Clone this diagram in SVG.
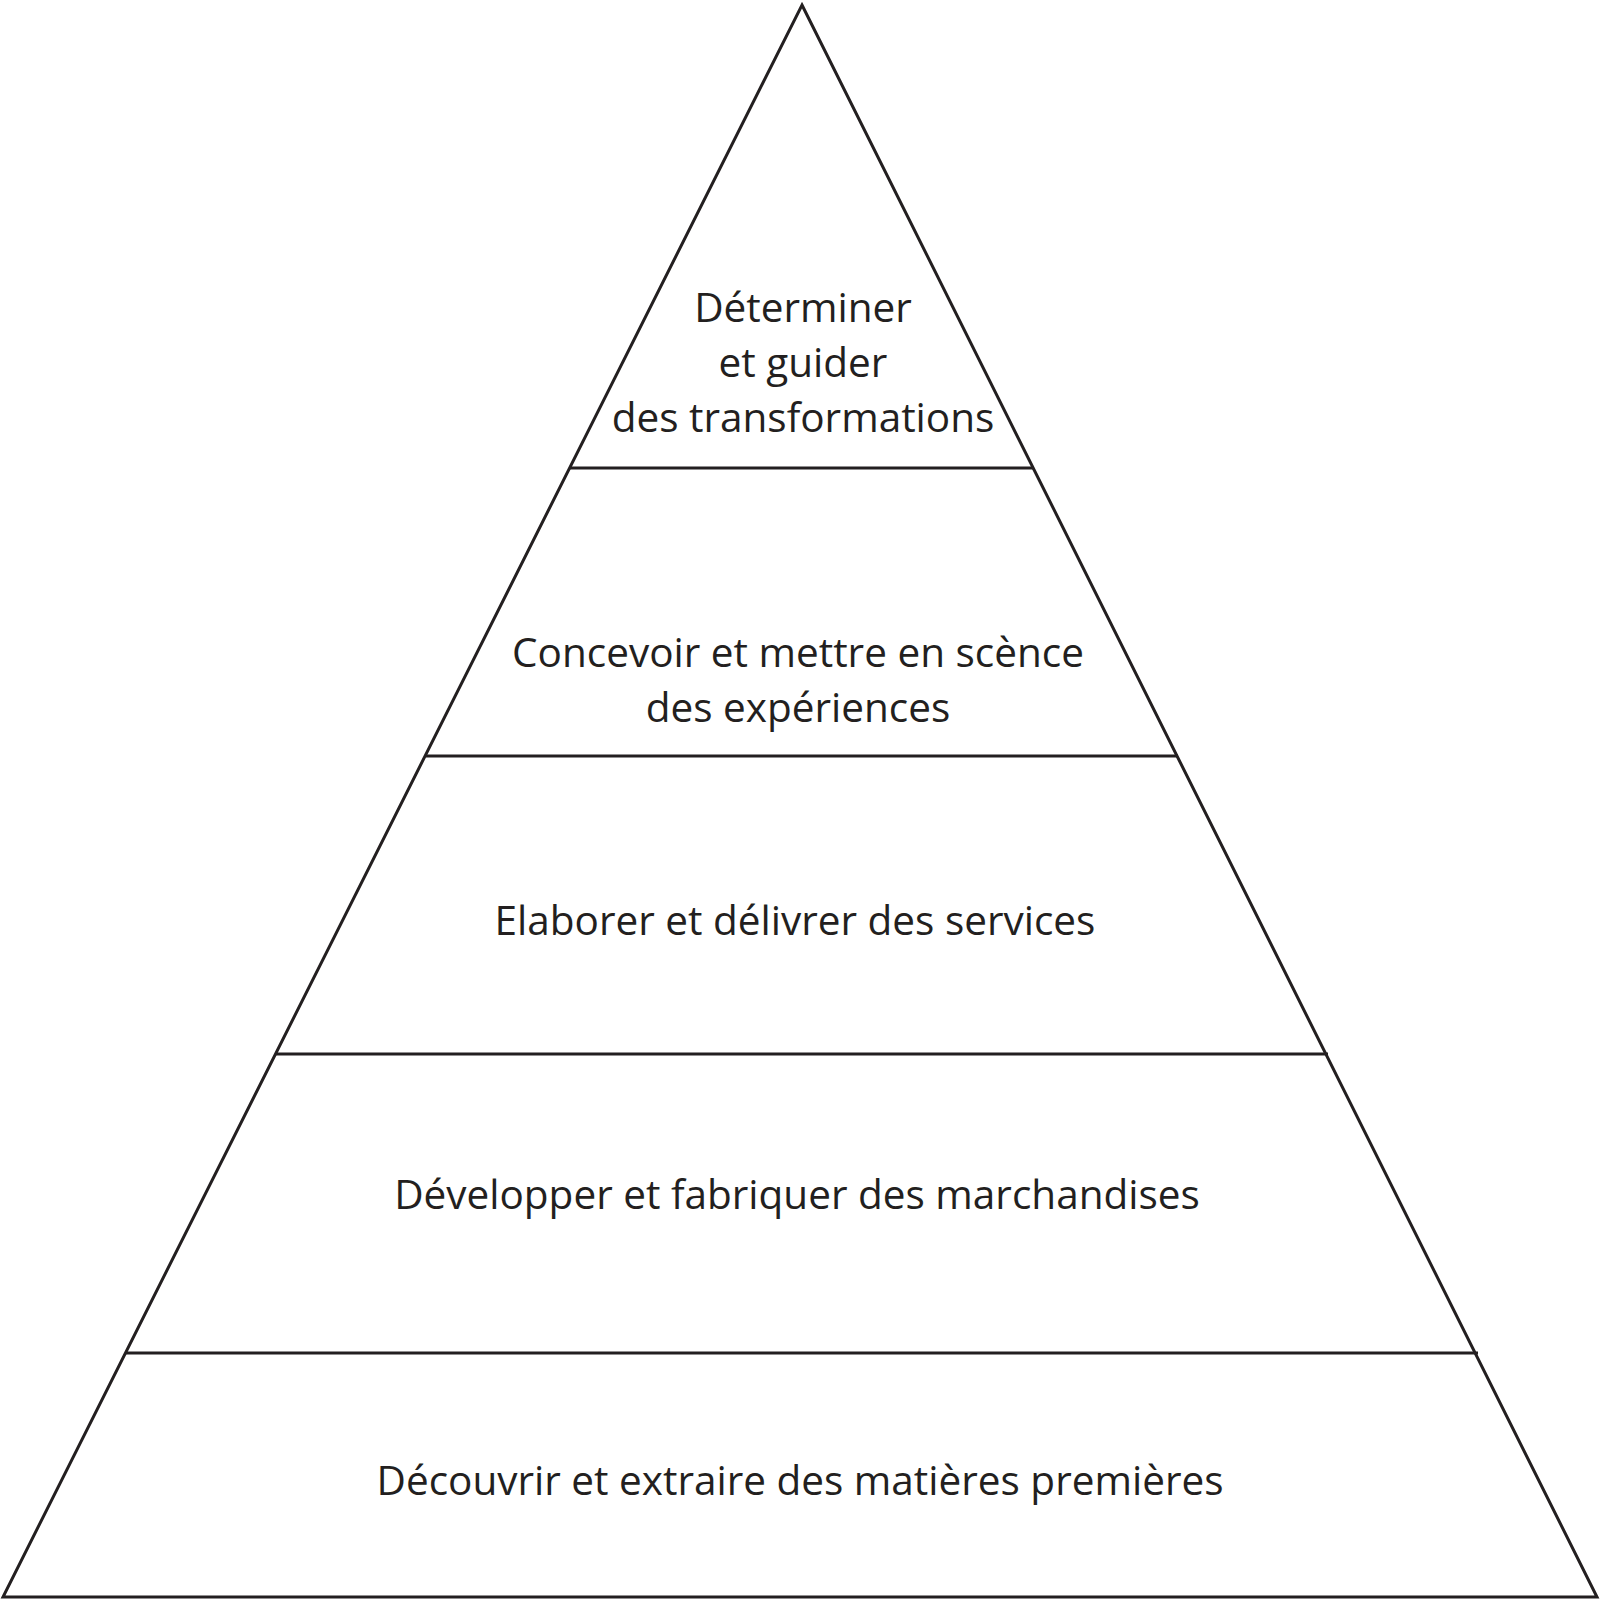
<svg xmlns="http://www.w3.org/2000/svg" width="1600" height="1600" viewBox="0 0 1600 1600">
<style>
.l{stroke:#231f20;stroke-width:3;fill:none}
text{font-family:"Open Sans","Liberation Sans",sans-serif;font-size:40.5px;fill:#231f20;text-anchor:middle}
</style>
<rect width="1600" height="1600" fill="#fff"/>
<g id="pyramid">
<polygon class="l" points="802,5 1597,1597 3,1597"/>
</g>
<g id="connectors">
<line class="l" x1="570" y1="468" x2="1034" y2="468"/>
<line class="l" x1="426" y1="756" x2="1178" y2="756"/>
<line class="l" x1="276" y1="1054" x2="1328" y2="1054"/>
<line class="l" x1="126" y1="1353" x2="1478" y2="1353"/>
</g>
<g id="level1"><text x="803" y="322">Déterminer</text><text x="803" y="377">et guider</text><text x="803" y="432">des transformations</text></g>
<g id="level2"><text x="798" y="667">Concevoir et mettre en scènce</text><text x="798" y="722">des expériences</text></g>
<g id="level3"><text x="795" y="935">Elaborer et délivrer des services</text></g>
<g id="level4"><text x="797" y="1209">Développer et fabriquer des marchandises</text></g>
<g id="level5"><text x="800" y="1495">Découvrir et extraire des matières premières</text></g>
</svg>
